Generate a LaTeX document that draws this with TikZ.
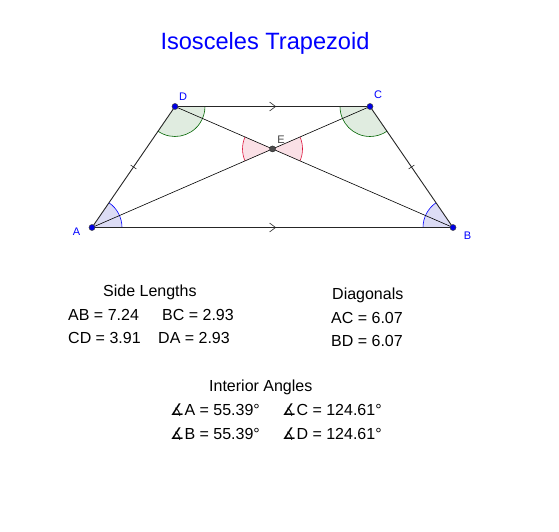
\documentclass[tikz,border=0pt]{standalone}
\usepackage{fontspec}
\setmainfont{Liberation Sans}
\newfontfamily\angfont{DejaVu Sans}
\usetikzlibrary{angles,decorations.markings}
\definecolor{ggblue}{RGB}{0,0,255}
\definecolor{ggpoint}{RGB}{0,0,230}
\definecolor{anglefillA}{RGB}{220,220,245}
\definecolor{anglegreen}{RGB}{0,100,0}
\definecolor{anglefillD}{RGB}{224,236,224}
\definecolor{anglered}{RGB}{220,20,60}
\definecolor{anglefillE}{RGB}{250,224,230}
\newcommand{\mang}{{\angfont\char"2221}}
\begin{document}
\begin{tikzpicture}[x=1pt,y=1pt,
	side/.style={line width=0.9pt,black!85},
	diag/.style={line width=0.6pt,black},
	pt/.style={circle,draw=black!75,fill=ggpoint,line width=0.5pt,inner sep=0pt,minimum size=6pt},
	lbl/.style={anchor=base,inner sep=0pt,font=\fontsize{11}{13}\selectfont,text=ggblue},
	txt/.style={anchor=base west,inner sep=0pt,font=\fontsize{16}{19}\selectfont},
	onetick/.style={postaction={decorate,decoration={markings,
		mark=at position 0.5 with {\draw[line width=0.6pt] (0,-3.5) -- (0,3.5);}}}},
	midarrow/.style={postaction={decorate,decoration={markings,
		mark=at position 0.5 with {\draw[line width=0.6pt] (-3,4.5) -- (3,0) -- (-3,-4.5);}}}}
	]
	\useasboundingbox (0,0) rectangle (559,531);
	
	\node[anchor=base,inner sep=0pt,font=\fontsize{23.6}{28}\selectfont,text=ggblue] (title) at (265,481.5) {Isosceles Trapezoid};
	
	% the trapezoid
	\coordinate (A) at (92,303.5);
	\coordinate (B) at (453,303.5);
	\coordinate (C) at (370,424.5);
	\coordinate (D) at (175,424.5);
	\coordinate (E) at (intersection of A--C and B--D);
	
	\pic[draw=ggblue,fill=anglefillA,line width=0.6pt,angle radius=30] {angle=B--A--D};
	\pic[draw=ggblue,fill=anglefillA,line width=0.6pt,angle radius=30] {angle=C--B--A};
	\pic[draw=anglegreen,fill=anglefillD,line width=0.6pt,angle radius=30] {angle=D--C--B};
	\pic[draw=anglegreen,fill=anglefillD,line width=0.6pt,angle radius=30] {angle=A--D--C};
	\pic[draw=anglered,fill=anglefillE,line width=0.6pt,angle radius=30] {angle=D--E--A};
	\pic[draw=anglered,fill=anglefillE,line width=0.6pt,angle radius=30] {angle=B--E--C};
	
	\draw[diag] (A) -- (C);
	\draw[diag] (B) -- (D);
	\draw[side,midarrow] (A) -- (B);
	\draw[side,midarrow] (D) -- (C);
	\draw[side,onetick] (A) -- (D);
	\draw[side,onetick] (B) -- (C);
	
	\node[pt] (pA) at (A) {};
	\node[pt] (pB) at (B) {};
	\node[pt] (pC) at (C) {};
	\node[pt] (pD) at (D) {};
	\node[pt,fill=black!70,draw=black!80] (pE) at (E) {};
	
	\node[lbl] (lA) at (76.5,296) {A};
	\node[lbl] (lB) at (467.5,291.5) {B};
	\node[lbl] (lC) at (378,432) {C};
	\node[lbl] (lD) at (183,430) {D};
	\node[lbl,text=black!75] (lE) at (281,387.5) {E};
	
	% measurements
	\node[txt] (sides) at (103,235) {Side Lengths};
	\node[txt] (ab) at (68,211) {AB = 7.24};
	\node[txt] (bc) at (162,211) {BC = 2.93};
	\node[txt] (cd) at (68,187.5) {CD = 3.91};
	\node[txt] (da) at (158,187.5) {DA = 2.93};
	
	\node[txt] (diags) at (332,232) {Diagonals};
	\node[txt] (ac) at (331,208) {AC = 6.07};
	\node[txt] (bd) at (331,184.5) {BD = 6.07};
	
	\node[txt] (angs) at (209,139.5) {Interior Angles};
	\node[txt] (angA) at (170,116) {\mang A = 55.39°};
	\node[txt] (angC) at (282,116) {\mang C = 124.61°};
	\node[txt] (angB) at (170,92) {\mang B = 55.39°};
	\node[txt] (angD) at (282,92) {\mang D = 124.61°};
\end{tikzpicture}
\end{document}
